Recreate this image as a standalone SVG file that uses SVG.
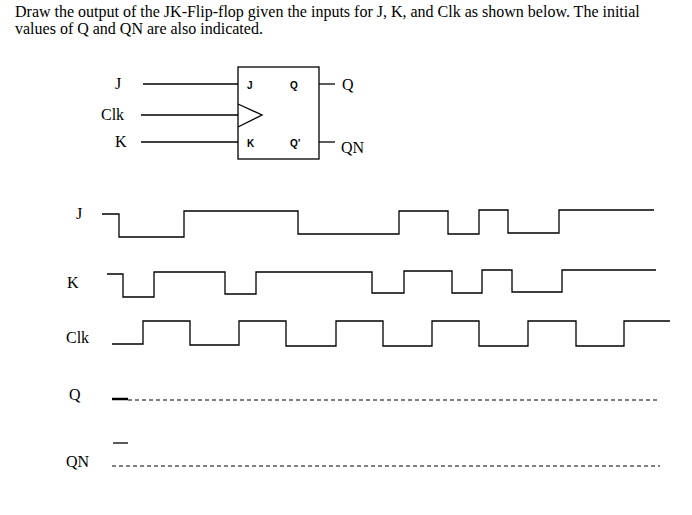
<svg xmlns="http://www.w3.org/2000/svg" width="692" height="515" viewBox="0 0 692 515">
<style>
.t{font-family:"Liberation Serif","Times New Roman","DejaVu Serif",serif;font-size:16px;fill:#000}
.s{font-family:"Liberation Sans",Arial,sans-serif;font-size:10px;font-weight:bold;fill:#000}
.w{fill:none;stroke:#000;stroke-width:1.3}
.d{fill:none;stroke:#000;stroke-width:1;stroke-dasharray:4,3}
</style>
<rect width="692" height="515" fill="#fff"/>
<text class="t" x="15" y="17">Draw the output of the JK-Flip-flop given the inputs for J, K, and Clk as shown below. The initial</text>
<text class="t" x="15" y="34">values of Q and QN are also indicated.</text>
<g id="ff">
<rect x="238" y="67" width="81" height="92" class="w" stroke-width="2"/>
<polyline points="238,104 262,115 238,127" class="w"/>
<text class="s" x="247" y="89">J</text>
<text class="s" x="290" y="89">Q</text>
<text class="s" x="247" y="147">K</text>
<text class="s" x="290" y="147">Q’</text>
</g>
<g id="labels">
<text class="t" x="115" y="89">J</text>
<text class="t" x="101" y="120">Clk</text>
<text class="t" x="115" y="147">K</text>
<text class="t" x="342" y="90">Q</text>
<text class="t" x="341" y="153">QN</text>
<text class="t" x="76" y="219">J</text>
<text class="t" x="67" y="288">K</text>
<text class="t" x="66" y="343">Clk</text>
<text class="t" x="69" y="400">Q</text>
<text class="t" x="66" y="467">QN</text>
</g>
<g id="connectors">
<line x1="143" y1="84" x2="238" y2="84" class="w"/>
<line x1="141" y1="115" x2="238" y2="115" class="w"/>
<line x1="141" y1="142" x2="238" y2="142" class="w"/>
<line x1="319" y1="84" x2="335" y2="84" class="w"/>
<line x1="319" y1="142" x2="335" y2="142" class="w"/>
</g>
<g id="waves">
<polyline class="w" points="102,214 119,214 119,237 184,237 184,211 298,211 298,234 399,234 399,211 448,211 448,234 479,234 479,210 508,210 508,233 559,233 559,210 654,210"/>
<polyline class="w" points="107,274 123,274 123,297 154,297 154,272 225,272 225,294 256,294 256,272 372,272 372,293 404,293 404,271 452,271 452,293 482,293 482,270 512,270 512,292 562,292 562,270 656,270"/>
<polyline class="w" points="112,344 143,344 143,321 190,321 190,345 239,345 239,321 286,321 286,346 336,346 336,321 383,321 383,346 432,346 432,321 479,321 479,346 528,346 528,321 576,321 576,346 624,346 624,321 670,321"/>
<line x1="112" y1="399" x2="128" y2="399" stroke="#000" stroke-width="2.5"/>
<line x1="128" y1="400" x2="660" y2="400" class="d"/>
<line x1="113" y1="443" x2="128" y2="443" stroke="#000" stroke-width="1.3"/>
<line x1="112" y1="466" x2="660" y2="466" class="d"/>
</g>
</svg>
